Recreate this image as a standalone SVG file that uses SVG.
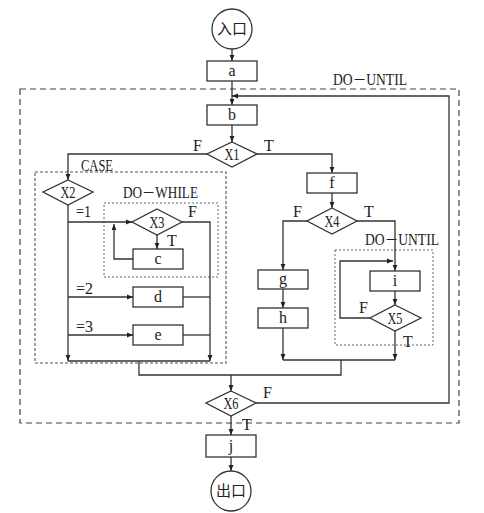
<svg xmlns="http://www.w3.org/2000/svg" width="484" height="513" viewBox="0 0 484 513">
<style>
.s{fill:#fff;stroke:#333;stroke-width:1.3}
.c{fill:none;stroke:#333;stroke-width:1.3}
.t{font-family:"Liberation Serif","Noto Sans CJK SC",serif;font-size:16px;fill:#222;text-anchor:middle}
.l{font-family:"Liberation Serif","Noto Sans CJK SC",serif;font-size:16px;fill:#222}
.k{font-family:"Noto Sans CJK SC",sans-serif;font-size:15px;fill:#222;text-anchor:middle}
.d1{fill:none;stroke:#444;stroke-width:1.2;stroke-dasharray:6,4}
.d2{fill:none;stroke:#555;stroke-width:1.1;stroke-dasharray:3,2}
.d3{fill:none;stroke:#666;stroke-width:1;stroke-dasharray:2,2}
</style>
<defs>
<marker id="ar" viewBox="0 0 10 10" refX="10" refY="5" markerWidth="6" markerHeight="6" orient="auto" markerUnits="userSpaceOnUse">
<path d="M0,1 L10,5 L0,9 z" fill="#222"/>
</marker>
</defs>
<rect width="484" height="513" fill="#fff"/>

<g id="containers">
<rect class="d1" x="20" y="89" width="439" height="334"/>
<rect class="d2" x="35" y="172" width="191" height="191"/>
<rect class="d3" x="104" y="203" width="114" height="74"/>
<rect class="d3" x="335" y="250" width="98" height="95"/>
<text class="l" x="333" y="85" textLength="74" lengthAdjust="spacingAndGlyphs">DO－UNTIL</text>
<text class="l" x="81" y="171" textLength="32" lengthAdjust="spacingAndGlyphs">CASE</text>
<text class="l" x="123" y="198" textLength="75" lengthAdjust="spacingAndGlyphs">DO－WHILE</text>
<text class="l" x="365" y="245" textLength="74" lengthAdjust="spacingAndGlyphs">DO－UNTIL</text>
</g>

<g id="connectors">
<path class="c" d="M232,49 V61" marker-end="url(#ar)"/>
<path class="c" d="M232,81 V105" marker-end="url(#ar)"/>
<path class="c" d="M256,403 H449 V96 H232" marker-end="url(#ar)"/>
<path class="c" d="M232,125 V142" marker-end="url(#ar)"/>
<path class="c" d="M208,154 H68 V180" marker-end="url(#ar)"/>
<path class="c" d="M257,154 H332 V173" marker-end="url(#ar)"/>
<path class="c" d="M68,205 V361" marker-end="url(#ar)"/>
<path class="c" d="M68,222 H132" marker-end="url(#ar)"/>
<path class="c" d="M182,222 H210 V361" marker-end="url(#ar)"/>
<path class="c" d="M157,235 V249" marker-end="url(#ar)"/>
<path class="c" d="M133,259 H114 V224" marker-end="url(#ar)"/>
<path class="c" d="M68,297 H133" marker-end="url(#ar)"/>
<path class="c" d="M183,297 H210"/>
<path class="c" d="M68,335 H133" marker-end="url(#ar)"/>
<path class="c" d="M183,335 H210"/>
<path class="c" d="M68,361 H210"/>
<path class="c" d="M139,361 V375 H341 V360"/>
<path class="c" d="M231,375 V391" marker-end="url(#ar)"/>
<path class="c" d="M332,193 V208" marker-end="url(#ar)"/>
<path class="c" d="M307,221 H283 V270" marker-end="url(#ar)"/>
<path class="c" d="M357,221 H395 V271" marker-end="url(#ar)"/>
<path class="c" d="M283,289 V308" marker-end="url(#ar)"/>
<path class="c" d="M395,291 V305" marker-end="url(#ar)"/>
<path class="c" d="M370,318 H340 V261 H393" marker-end="url(#ar)"/>
<path class="c" d="M283,328 V360" marker-end="url(#ar)"/>
<path class="c" d="M395,331 V360" marker-end="url(#ar)"/>
<path class="c" d="M283,360 H395"/>
<path class="c" d="M231,416 V435" marker-end="url(#ar)"/>
<path class="c" d="M231,457 V471" marker-end="url(#ar)"/>
<text class="l" x="193" y="151">F</text>
<text class="l" x="264" y="151">T</text>
<text class="l" x="76" y="217" textLength="15" lengthAdjust="spacingAndGlyphs">=1</text>
<text class="l" x="188" y="217">F</text>
<text class="l" x="167" y="246">T</text>
<text class="l" x="76" y="294" textLength="17" lengthAdjust="spacingAndGlyphs">=2</text>
<text class="l" x="76" y="332" textLength="17" lengthAdjust="spacingAndGlyphs">=3</text>
<text class="l" x="293" y="217">F</text>
<text class="l" x="364" y="217">T</text>
<text class="l" x="359" y="313">F</text>
<text class="l" x="403" y="347">T</text>
<text class="l" x="263" y="398">F</text>
<text class="l" x="242" y="430">T</text>
</g>

<g id="entry"><circle class="s" cx="232" cy="29" r="20"/><text class="k" x="232" y="34">入口</text></g>
<g id="a"><rect class="s" x="207" y="61" width="50" height="20"/><text class="t" x="232" y="76">a</text></g>
<g id="b"><rect class="s" x="207" y="105" width="50" height="20"/><text class="t" x="232" y="120">b</text></g>
<g id="X1"><polygon class="s" points="232,142 257,154 232,167 207,154"/><text class="t" x="232" y="160" textLength="15" lengthAdjust="spacingAndGlyphs">X1</text></g>
<g id="X2"><polygon class="s" points="68,180 93,192 68,205 43,192"/><text class="t" x="68" y="198" textLength="15" lengthAdjust="spacingAndGlyphs">X2</text></g>
<g id="X3"><polygon class="s" points="157,209 182,222 157,235 132,222"/><text class="t" x="157" y="228" textLength="15" lengthAdjust="spacingAndGlyphs">X3</text></g>
<g id="c"><rect class="s" x="133" y="249" width="50" height="20"/><text class="t" x="158" y="264">c</text></g>
<g id="d"><rect class="s" x="133" y="287" width="50" height="20"/><text class="t" x="158" y="302">d</text></g>
<g id="e"><rect class="s" x="133" y="325" width="50" height="20"/><text class="t" x="158" y="340">e</text></g>
<g id="f"><rect class="s" x="307" y="173" width="50" height="20"/><text class="t" x="332" y="188">f</text></g>
<g id="X4"><polygon class="s" points="332,208 357,221 332,234 307,221"/><text class="t" x="332" y="227" textLength="15" lengthAdjust="spacingAndGlyphs">X4</text></g>
<g id="g"><rect class="s" x="258" y="270" width="50" height="19"/><text class="t" x="283" y="284">g</text></g>
<g id="h"><rect class="s" x="258" y="308" width="50" height="20"/><text class="t" x="283" y="323">h</text></g>
<g id="i"><rect class="s" x="370" y="271" width="50" height="20"/><text class="t" x="395" y="286">i</text></g>
<g id="X5"><polygon class="s" points="395,305 421,318 395,331 370,318"/><text class="t" x="395" y="324" textLength="15" lengthAdjust="spacingAndGlyphs">X5</text></g>
<g id="X6"><polygon class="s" points="231,391 256,403 231,416 206,403"/><text class="t" x="231" y="409" textLength="15" lengthAdjust="spacingAndGlyphs">X6</text></g>
<g id="j"><rect class="s" x="206" y="435" width="50" height="22"/><text class="t" x="231" y="451">j</text></g>
<g id="exit"><circle class="s" cx="231" cy="491" r="20"/><text class="k" x="231" y="496">出口</text></g>
</svg>
